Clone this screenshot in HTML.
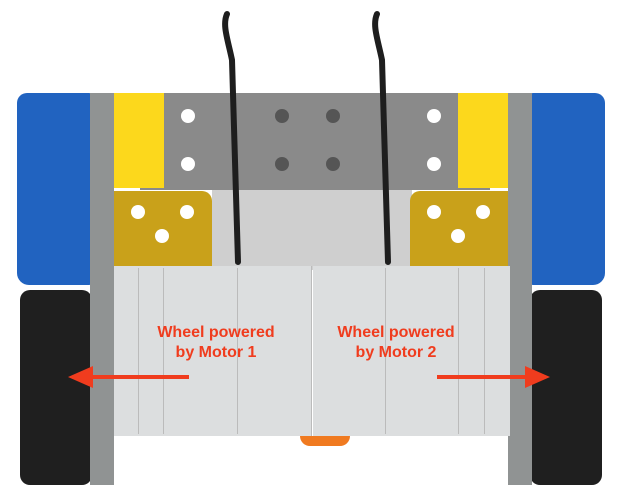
<!DOCTYPE html><html><head><style>
body{margin:0;width:622px;height:500px;background:#fff;position:relative;overflow:hidden;font-family:"Liberation Sans",sans-serif}
div{position:absolute}
.h{width:14px;height:14px;border-radius:50%;background:#fff}
.d{width:14px;height:14px;border-radius:50%;background:#555}
.t{color:#f03c1e;font-weight:bold;font-size:16px;text-align:center;line-height:20px}
</style></head><body>
<div style="left:17px;top:93px;width:76px;height:192px;background:#2163c0;border-radius:10px 4px 4px 12px"></div>
<div style="left:529px;top:93px;width:76px;height:192px;background:#2163c0;border-radius:4px 10px 12px 4px"></div>
<div style="left:20px;top:290px;width:72px;height:195px;background:#1f1f1f;border-radius:10px"></div>
<div style="left:530px;top:290px;width:72px;height:195px;background:#1f1f1f;border-radius:10px"></div>
<div style="left:140px;top:93px;width:350px;height:97px;background:#8a8a8a"></div>
<div style="left:212px;top:190px;width:200px;height:80px;background:#cfcfcf"></div>
<div style="left:114px;top:93px;width:50px;height:95px;background:#fcd81c"></div>
<div style="left:458px;top:93px;width:50px;height:95px;background:#fcd81c"></div>
<div style="left:114px;top:191px;width:98px;height:75px;background:#c9a11a;border-radius:0 10px 0 0"></div>
<div style="left:410px;top:191px;width:98px;height:75px;background:#c9a11a;border-radius:10px 0 0 0"></div>
<div class="h" style="left:181px;top:109px"></div><div class="h" style="left:181px;top:157px"></div>
<div class="h" style="left:427px;top:109px"></div><div class="h" style="left:427px;top:157px"></div>
<div class="d" style="left:275px;top:109px"></div><div class="d" style="left:326px;top:109px"></div><div class="d" style="left:275px;top:157px"></div><div class="d" style="left:326px;top:157px"></div>
<div class="h" style="left:131px;top:205px"></div><div class="h" style="left:180px;top:205px"></div><div class="h" style="left:155px;top:229px"></div>
<div class="h" style="left:427px;top:205px"></div><div class="h" style="left:476px;top:205px"></div><div class="h" style="left:451px;top:229px"></div>
<div style="left:90px;top:93px;width:24px;height:392px;background:#909393"></div>
<div style="left:508px;top:93px;width:24px;height:392px;background:#909393"></div>
<div style="left:114px;top:266px;width:197px;height:170px;background:#dcdedf;border-right:1px solid #bbb"></div>
<div style="left:313px;top:266px;width:197px;height:170px;background:#dcdedf"></div>
<div style="left:138px;top:268px;width:1px;height:166px;background:#bbb"></div><div style="left:163px;top:268px;width:1px;height:166px;background:#bbb"></div><div style="left:237px;top:268px;width:1px;height:166px;background:#bbb"></div>
<div style="left:385px;top:268px;width:1px;height:166px;background:#bbb"></div><div style="left:458px;top:268px;width:1px;height:166px;background:#bbb"></div><div style="left:484px;top:268px;width:1px;height:166px;background:#bbb"></div>
<div style="left:300px;top:436px;width:50px;height:10px;background:#f07a20;border-radius:0 0 10px 10px"></div>
<svg width="622" height="500" style="position:absolute;left:0;top:0">
<path d="M227 14 C222 25,228 40,232 60 L238 262" stroke="#1e1e1e" stroke-width="6" fill="none" stroke-linecap="round"/>
<path d="M377 14 C372 25,378 40,382 60 L388 262" stroke="#1e1e1e" stroke-width="6" fill="none" stroke-linecap="round"/>
<line x1="189" y1="377" x2="88" y2="377" stroke="#f03c1e" stroke-width="4"/><polygon points="68,377 93,366 93,388" fill="#f03c1e"/>
<line x1="437" y1="377" x2="530" y2="377" stroke="#f03c1e" stroke-width="4"/><polygon points="550,377 525,366 525,388" fill="#f03c1e"/>
</svg>
<div class="t" style="left:140px;top:323px;width:152px">Wheel powered<br>by Motor 1</div>
<div class="t" style="left:320px;top:323px;width:152px">Wheel powered<br>by Motor 2</div>
</body></html>
